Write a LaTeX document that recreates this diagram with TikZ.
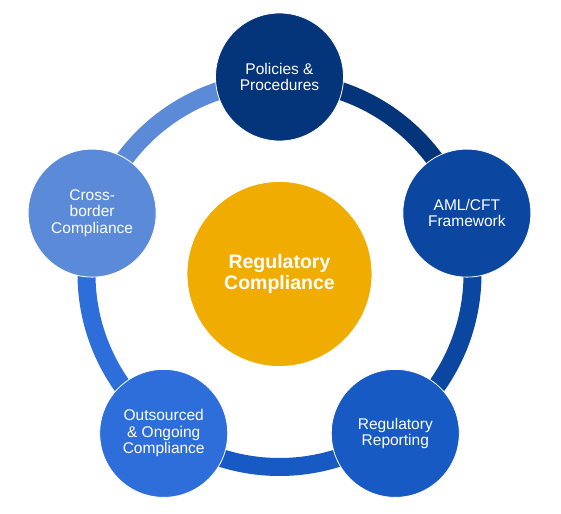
\documentclass[tikz,border=0pt]{standalone}
\usepackage{fontspec}
\setmainfont{Liberation Sans}
\usepackage{tikz}
\definecolor{polblue}{HTML}{04357A}
\definecolor{amlblue}{HTML}{0B47A0}
\definecolor{repblue}{HTML}{175AC4}
\definecolor{outblue}{HTML}{2D6EDB}
\definecolor{crbblue}{HTML}{5B8AD9}
\definecolor{hubgold}{HTML}{F0AC00}

\begin{document}
\begin{tikzpicture}[
  topic/.style={circle, minimum size=128pt, inner sep=0pt, draw=white, line width=0.8pt,
    text=white, align=center, font=\fontsize{15.5}{16.5}\selectfont},
  hub/.style={circle, minimum size=185pt, inner sep=0pt, fill=hubgold, draw=white, line width=0.8pt,
    text=white, align=center, font=\fontsize{19.5}{20.5}\selectfont\bfseries},
  ring/.style={line width=18pt}]

\useasboundingbox (-279.5pt,-239pt) rectangle (281.5pt,274pt);

% ring
\coordinate (pol-r) at (90:193pt);
\coordinate (aml-r) at (18:193pt);
\coordinate (rep-r) at (-54:193pt);
\coordinate (out-r) at (-126:193pt);
\coordinate (crb-r) at (162:193pt);

\draw [ring, polblue] (pol-r) arc [start angle=90, end angle=18, radius=193pt];
\draw [ring, amlblue] (aml-r) arc [start angle=18, end angle=-54, radius=193pt];
\draw [ring, repblue] (rep-r) arc [start angle=-54, end angle=-126, radius=193pt];
\draw [ring, outblue] (out-r) arc [start angle=-126, end angle=-198, radius=193pt];
\draw [ring, crbblue] (crb-r) arc [start angle=162, end angle=90, radius=193pt];

% circles
\node [hub] (hub) at (0,0) {Regulatory\\Compliance};
\node [topic, fill=polblue] (pol) at (90:197pt) {Policies \&\\Procedures};
\node [topic, fill=amlblue] (aml) at (18:197pt) {AML/CFT\\Framework};
\node [topic, fill=repblue] (rep) at (-54:197pt) {Regulatory\\Reporting};
\node [topic, fill=outblue] (out) at (-126:197pt) {Outsourced\\\& Ongoing\\Compliance};
\node [topic, fill=crbblue] (crb) at (162:197pt) {Cross-\\border\\Compliance};

\end{tikzpicture}
\end{document}
